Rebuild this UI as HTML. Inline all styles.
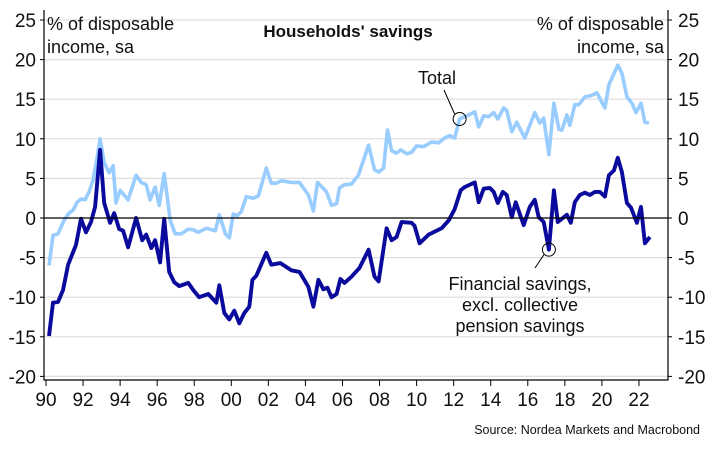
<!DOCTYPE html>
<html><head><meta charset="utf-8"><style>
body{margin:0;background:#fff;width:710px;height:448px;overflow:hidden}
svg text{font-family:"Liberation Sans Narrow","Liberation Sans",sans-serif;fill:#111}
</style></head><body>
<svg id="chart" width="710" height="448" viewBox="0 0 710 448">
<g id="grid"></g>
<g id="series"></g>
<g id="axes"></g>
<text x="348" y="37" text-anchor="middle" font-weight="bold" font-size="17">Households' savings</text>
<text x="47" y="30" font-size="18">% of disposable</text>
<text x="47" y="53" font-size="18">income, sa</text>
<text x="664" y="30" font-size="18" text-anchor="end">% of disposable</text>
<text x="664" y="53" font-size="18" text-anchor="end">income, sa</text>
<text x="437" y="84" font-size="18" text-anchor="middle">Total</text>
<text x="520" y="290" font-size="18" text-anchor="middle">Financial savings,</text>
<text x="520" y="311" font-size="18" text-anchor="middle">excl. collective</text>
<text x="520" y="332" font-size="18" text-anchor="middle">pension savings</text>
<text x="700" y="434" font-size="12.5" text-anchor="end">Source: Nordea Markets and Macrobond</text>
</svg>
<script>
const yTicks=[25,20,15,10,5,0,-5,-10,-15,-20];
const xTicks=[1990,1992,1994,1996,1998,2000,2002,2004,2006,2008,2010,2012,2014,2016,2018,2020,2022];
const xTickLabels=["90","92","94","96","98","00","02","04","06","08","10","12","14","16","18","20","22"];
const totalYears=[1990.16,1990.38,1990.65,1990.97,1991.24,1991.46,1991.68,1991.89,1992.11,1992.32,1992.54,1992.76,1992.92,1993.14,1993.41,1993.62,1993.78,1994.0,1994.43,1994.86,1995.14,1995.41,1995.62,1995.89,1996.11,1996.38,1996.7,1996.97,1997.3,1997.68,1997.95,1998.22,1998.65,1999.14,1999.35,1999.68,1999.89,2000.11,2000.32,2000.54,2000.81,2001.19,2001.46,2001.89,2002.16,2002.43,2002.7,2003.24,2003.68,2004.16,2004.43,2004.65,2005.14,2005.41,2005.68,2005.84,2006.11,2006.49,2006.86,2007.41,2007.73,2007.95,2008.22,2008.43,2008.65,2008.92,2009.14,2009.46,2009.73,2010.0,2010.38,2010.81,2011.19,2011.51,2011.78,2012.05,2012.32,2012.81,2013.14,2013.35,2013.62,2013.89,2014.16,2014.38,2014.7,2014.86,2015.14,2015.41,2015.84,2016.38,2016.65,2016.86,2017.14,2017.41,2017.68,2017.84,2018.11,2018.27,2018.54,2018.76,2019.08,2019.35,2019.73,2020.16,2020.38,2020.86,2021.08,2021.35,2021.62,2021.84,2022.11,2022.32,2022.54];
const totalValues=[-6,-2.2,-2,-0.3,0.6,1,2,2.4,2.3,3.3,4.8,7.6,10,7,5.7,6.6,1.9,3.5,2.3,5.4,4.5,4.2,2.3,3.9,1.6,5.6,-0.3,-2,-2,-1.4,-1.5,-1.8,-1.3,-1.6,0.4,-2,-2.5,0.5,0.3,0.8,2.7,2.5,2.8,6.3,4.4,4.4,4.7,4.5,4.5,2.9,0.9,4.5,3.3,1.6,1.8,3.8,4.2,4.3,5.4,9.2,6.1,5.8,6.3,11.1,8.5,8.2,8.6,8.1,8.3,9.1,9,9.6,9.5,10.1,10.4,10.1,12.5,13,13.4,11.5,12.9,12.8,13.3,12.5,13.9,13.6,10.9,12.1,10.1,13.3,12,12.6,8,14.5,11.2,11.1,13,11.7,14.3,14.3,15.3,15.4,15.8,13.9,16.8,19.3,18.3,15.3,14.5,13.3,14.5,12.1,12];
const finYears=[1990.16,1990.38,1990.65,1990.92,1991.19,1991.62,1991.89,1992.16,1992.43,1992.65,1992.92,1993.14,1993.46,1993.68,1993.95,1994.16,1994.43,1994.86,1995.19,1995.41,1995.68,1995.89,1996.16,1996.38,1996.65,1996.92,1997.19,1997.68,1997.95,1998.27,1998.76,1999.19,1999.35,1999.62,1999.89,2000.16,2000.43,2000.7,2000.97,2001.14,2001.35,2001.89,2002.16,2002.65,2003.24,2003.68,2004.16,2004.43,2004.7,2004.97,2005.19,2005.41,2005.68,2005.89,2006.11,2006.49,2006.92,2007.41,2007.73,2007.95,2008.38,2008.65,2008.92,2009.19,2009.73,2009.89,2010.16,2010.65,2011.35,2011.73,2012.05,2012.38,2012.59,2013.14,2013.35,2013.62,2013.95,2014.16,2014.38,2014.65,2014.86,2015.14,2015.35,2015.78,2016.11,2016.38,2016.59,2016.86,2017.14,2017.41,2017.62,2018.11,2018.32,2018.54,2018.81,2019.08,2019.35,2019.62,2019.89,2020.16,2020.38,2020.65,2020.86,2021.08,2021.35,2021.57,2021.89,2022.11,2022.32,2022.59];
const finValues=[-14.9,-10.7,-10.6,-9.1,-5.9,-3.4,-0.1,-1.8,-0.5,1.4,8.6,1.9,-0.6,0.6,-1.4,-1.6,-3.7,0,-2.8,-2.1,-3.8,-2.8,-5.6,-0.1,-6.8,-8.1,-8.6,-8.2,-9.1,-10,-9.6,-10.7,-8.5,-12,-12.8,-11.7,-13.3,-12,-11.2,-7.8,-7.3,-4.4,-5.9,-5.7,-6.6,-6.8,-8.7,-11.2,-7.8,-9,-8.8,-10,-9.6,-7.7,-8.2,-7.4,-6.3,-4,-7.4,-8,-1.3,-2.8,-2.4,-0.5,-0.6,-1,-3.2,-2.1,-1.3,-0.3,1.1,3.5,3.9,4.5,2,3.7,3.8,3.3,1.9,3.3,2.9,0.1,2,-0.9,1.4,2.3,0.1,-0.5,-4,3.5,-0.5,0.4,-0.6,2,2.9,3.2,2.9,3.3,3.3,2.7,5.4,6,7.6,5.8,1.9,1.3,-0.6,1.4,-3.2,-2.4];

const L=44,R=668,T=10,B=380;
const xs=y=>46+(y-1990)*18.53;
const ys=v=>218-v*7.92;
const NS="http://www.w3.org/2000/svg";
function mk(tag,attrs,parent,txt){const e=document.createElementNS(NS,tag);for(const k in attrs)e.setAttribute(k,attrs[k]);if(txt!==undefined)e.textContent=txt;parent.appendChild(e);return e;}
const grid=document.getElementById('grid'),axes=document.getElementById('axes'),series=document.getElementById('series');
yTicks.forEach(t=>{
  const g=mk('line',{x1:L,x2:R,y1:ys(t),y2:ys(t),stroke:t===0?'#000':'#ddd','stroke-width':t===0?1.3:1.2},t===0?axes:grid);
  
  
  const a=mk('text',{x:L-8,y:ys(t)+7,'text-anchor':'end','font-size':19},axes,String(t));
  
  
  const b=mk('text',{x:R+10,y:ys(t)+7,'font-size':19},axes,String(t));
  
  
  mk('line',{x1:L-4,x2:L,y1:ys(t),y2:ys(t),stroke:'#000'},axes);
  mk('line',{x1:R,x2:R+4,y1:ys(t),y2:ys(t),stroke:'#000'},axes);
});
xTicks.forEach((t,i)=>{
  mk('line',{x1:xs(t),x2:xs(t),y1:B,y2:B+6,stroke:'#000'},axes);
  const e=mk('text',{x:xs(t),y:B+26,'text-anchor':'middle','font-size':19},axes,xTickLabels[i]);
  
  
});
const fr=mk('path',{d:`M${L},${T}V${B}H${R}V${T}`,fill:'none',stroke:'#000','stroke-width':1.2},axes);


function line(xa,va,color,name,w){
  const d=xa.map((x,i)=>(i?'L':'M')+xs(x).toFixed(1)+','+ys(va[i]).toFixed(1)).join('');
  const p=mk('path',{d,fill:'none',stroke:color,'stroke-width':w,'stroke-linejoin':'round'},series);
  
  
}
line(totalYears,totalValues,'#99ccff','total-savings-line',3.6);
line(finYears,finValues,'#0a0a9c','financial-savings-line',3.9);
const ti=totalYears.indexOf(2012.32),fi=finYears.indexOf(2017.14);
const c1=mk('circle',{cx:xs(totalYears[ti]),cy:ys(totalValues[ti]),r:6.5,fill:'none',stroke:'#000','stroke-width':1},series);


mk('line',{x1:xs(totalYears[ti])-5,y1:ys(totalValues[ti])-5,x2:444,y2:90,stroke:'#000','stroke-width':1},series);
const c2=mk('circle',{cx:xs(finYears[fi]),cy:ys(finValues[fi]),r:6.5,fill:'none',stroke:'#000','stroke-width':1},series);


mk('line',{x1:xs(finYears[fi])-5,y1:ys(finValues[fi])+5,x2:535,y2:268,stroke:'#000','stroke-width':1},series);
</script>
</body></html>
